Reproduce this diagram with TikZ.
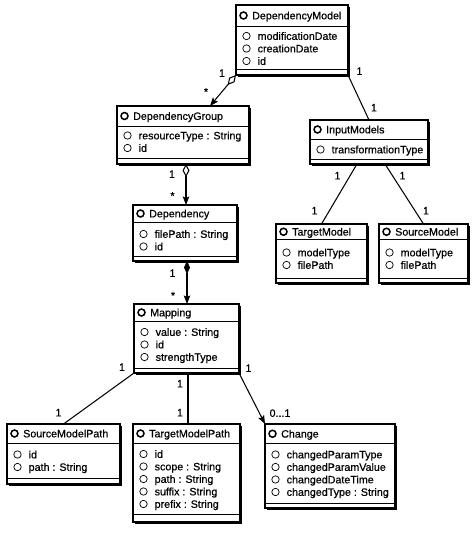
\documentclass[tikz,border=0pt]{standalone}
\usepackage{fontspec}
\setmainfont[FakeBold=0.6]{Liberation Sans}
\usetikzlibrary{arrows.meta,shadows,calc}
\tikzset{
  classbox/.style={draw, line width=1.2pt, fill=white, inner sep=0pt, outer sep=0pt,
    drop shadow={shadow xshift=1.5pt, shadow yshift=-1.5pt, opacity=1, fill=black}},
  divider/.style={line width=0.9pt},
  titlecirc/.style={line width=1.5pt},
  attrcirc/.style={line width=0.7pt},
  ctext/.style={anchor=west, inner sep=0pt, text height=7.7pt, text depth=0pt},
  lbl/.style={inner sep=0pt, text height=7.7pt, text depth=0pt},
  lblstar/.style={lbl, yshift=-2.3pt},
  assoc/.style={line width=1.05pt},
  navtip/.style={-{Stealth[length=8.5pt,width=6.5pt,inset=1.5pt]}},
  aggr/.style={{Diamond[open,length=13pt,width=7pt]}-{Stealth[length=8.5pt,width=6.5pt,inset=1.5pt]}},
  compo/.style={{Diamond[length=13pt,width=6pt]}-{Stealth[length=8.5pt,width=6.5pt,inset=1.5pt]}},
}
% #1 name, #2 left, #3 top, #4 right, #5 bottom, #6 title divider, #7 ops divider, #8 title
\newcommand{\umlclass}[8]{%
  \node[classbox, minimum width={(#4-#2)*1pt}, minimum height={(#5-#3)*1pt}] (#1) at ({(#2+#4)/2},{(#3+#5)/2}) {};
  \draw[divider] (#1.west |- 0,#6) -- (#1.east |- 0,#6);
  \draw[divider] (#1.west |- 0,#7) -- (#1.east |- 0,#7);
  \draw[titlecirc] ([xshift=7.5pt]#1.west |- 0,{(#3+#6)/2}) circle (3.5pt);
  \node[ctext] (#1-title) at ([xshift=16pt]#1.west |- 0,{(#3+#6)/2}) {#8};
}
% #1 box, #2 row id, #3 y, #4 text
\newcommand{\cattr}[4]{%
  \draw[attrcirc] ([xshift=10.5pt]#1.west |- 0,#3) circle (3.7pt);
  \node[ctext] (#1-#2) at ([xshift=21.5pt]#1.west |- 0,#3) {#4};
}
\begin{document}
\begin{tikzpicture}[x=1pt,y=-1pt]
\fontsize{10.7}{12.7}\selectfont
\useasboundingbox[fill=white] (0,0) rectangle (474,533);

\umlclass{dm}{236}{5}{348}{75}{26}{69}{DependencyModel}
\cattr{dm}{a1}{36}{modificationDate}
\cattr{dm}{a2}{48.5}{creationDate}
\cattr{dm}{a3}{61}{id}

\umlclass{dg}{117}{106}{249}{164}{126}{158.5}{DependencyGroup}
\cattr{dg}{a1}{135.5}{resourceType : String}
\cattr{dg}{a2}{148}{id}

\umlclass{dep}{133}{205}{237}{261}{222}{256}{Dependency}
\cattr{dep}{a1}{234}{filePath : String}
\cattr{dep}{a2}{246.5}{id}

\umlclass{map}{134}{304}{239}{373}{321}{368}{Mapping}
\cattr{map}{a1}{332}{value : String}
\cattr{map}{a2}{344.5}{id}
\cattr{map}{a3}{357}{strengthType}

\umlclass{im}{310}{120}{428}{164}{139}{159}{InputModels}
\cattr{im}{a1}{149.5}{transformationType}

\umlclass{tm}{276}{224}{367}{283}{239.5}{278}{TargetModel}
\cattr{tm}{a1}{252.5}{modelType}
\cattr{tm}{a2}{265}{filePath}

\umlclass{sm}{379}{224}{468}{283}{239.5}{278}{SourceModel}
\cattr{sm}{a1}{252.5}{modelType}
\cattr{sm}{a2}{265}{filePath}

\umlclass{smp}{7}{424}{120}{484}{443}{478}{SourceModelPath}
\cattr{smp}{a1}{454.5}{id}
\cattr{smp}{a2}{467}{path : String}

\umlclass{tmp}{133}{424}{240}{522}{443}{514}{TargetModelPath}
\cattr{tmp}{a1}{454}{id}
\cattr{tmp}{a2}{466.5}{scope : String}
\cattr{tmp}{a3}{479}{path : String}
\cattr{tmp}{a4}{491.5}{suffix : String}
\cattr{tmp}{a5}{504}{prefix : String}

\umlclass{ch}{265}{424}{395}{508}{443.5}{503}{Change}
\cattr{ch}{a1}{454.5}{changedParamType}
\cattr{ch}{a2}{467}{changedParamValue}
\cattr{ch}{a3}{479.5}{changedDateTime}
\cattr{ch}{a4}{492}{changedType : String}

% connectors
\draw[assoc, aggr] (dm.south west) -- ([xshift=93pt]dg.north west);
\draw[assoc, aggr] ([xshift=69pt]dg.south west) -- ([xshift=53pt]dep.north west);
\draw[assoc, compo] ([xshift=54pt]dep.south west) -- ([xshift=53pt]map.north west);
\draw[assoc] (map.south west) -- (smp.north);
\draw[assoc] ([xshift=54pt]map.south west) -- ([xshift=55pt]tmp.north west);
\draw[assoc, navtip] (map.south east) -- (ch.north west);
\draw[assoc] (dm.south east) -- (im.north);
\draw[assoc] ([xshift=-12pt]im.south) -- (tm.north);
\draw[assoc] ([xshift=16pt]im.south) -- (sm.north);

% multiplicities
\node[lbl] (m1) at (222,73) {1};
\node[lblstar] (m2) at (206,89.3) {*};
\node[lbl] (m3) at (172,174) {1};
\node[lblstar] (m4) at (172.5,193.3) {*};
\node[lbl] (m5) at (172.5,273) {1};
\node[lblstar] (m6) at (173,293) {*};
\node[lbl] (m7) at (122,367) {1};
\node[lbl] (m8) at (58.5,412.5) {1};
\node[lbl] (m9) at (180,383.5) {1};
\node[lbl] (m10) at (180,412.5) {1};
\node[lbl] (m11) at (248.5,368) {1};
\node[lbl] (m12) at (280,413) {0...1};
\node[lbl] (m13) at (359.5,71) {1};
\node[lbl] (m14) at (374,107.5) {1};
\node[lbl] (m15) at (337.5,175.5) {1};
\node[lbl] (m16) at (314.5,210.5) {1};
\node[lbl] (m17) at (402.5,175.5) {1};
\node[lbl] (m18) at (426,210.5) {1};
\end{tikzpicture}
\end{document}
